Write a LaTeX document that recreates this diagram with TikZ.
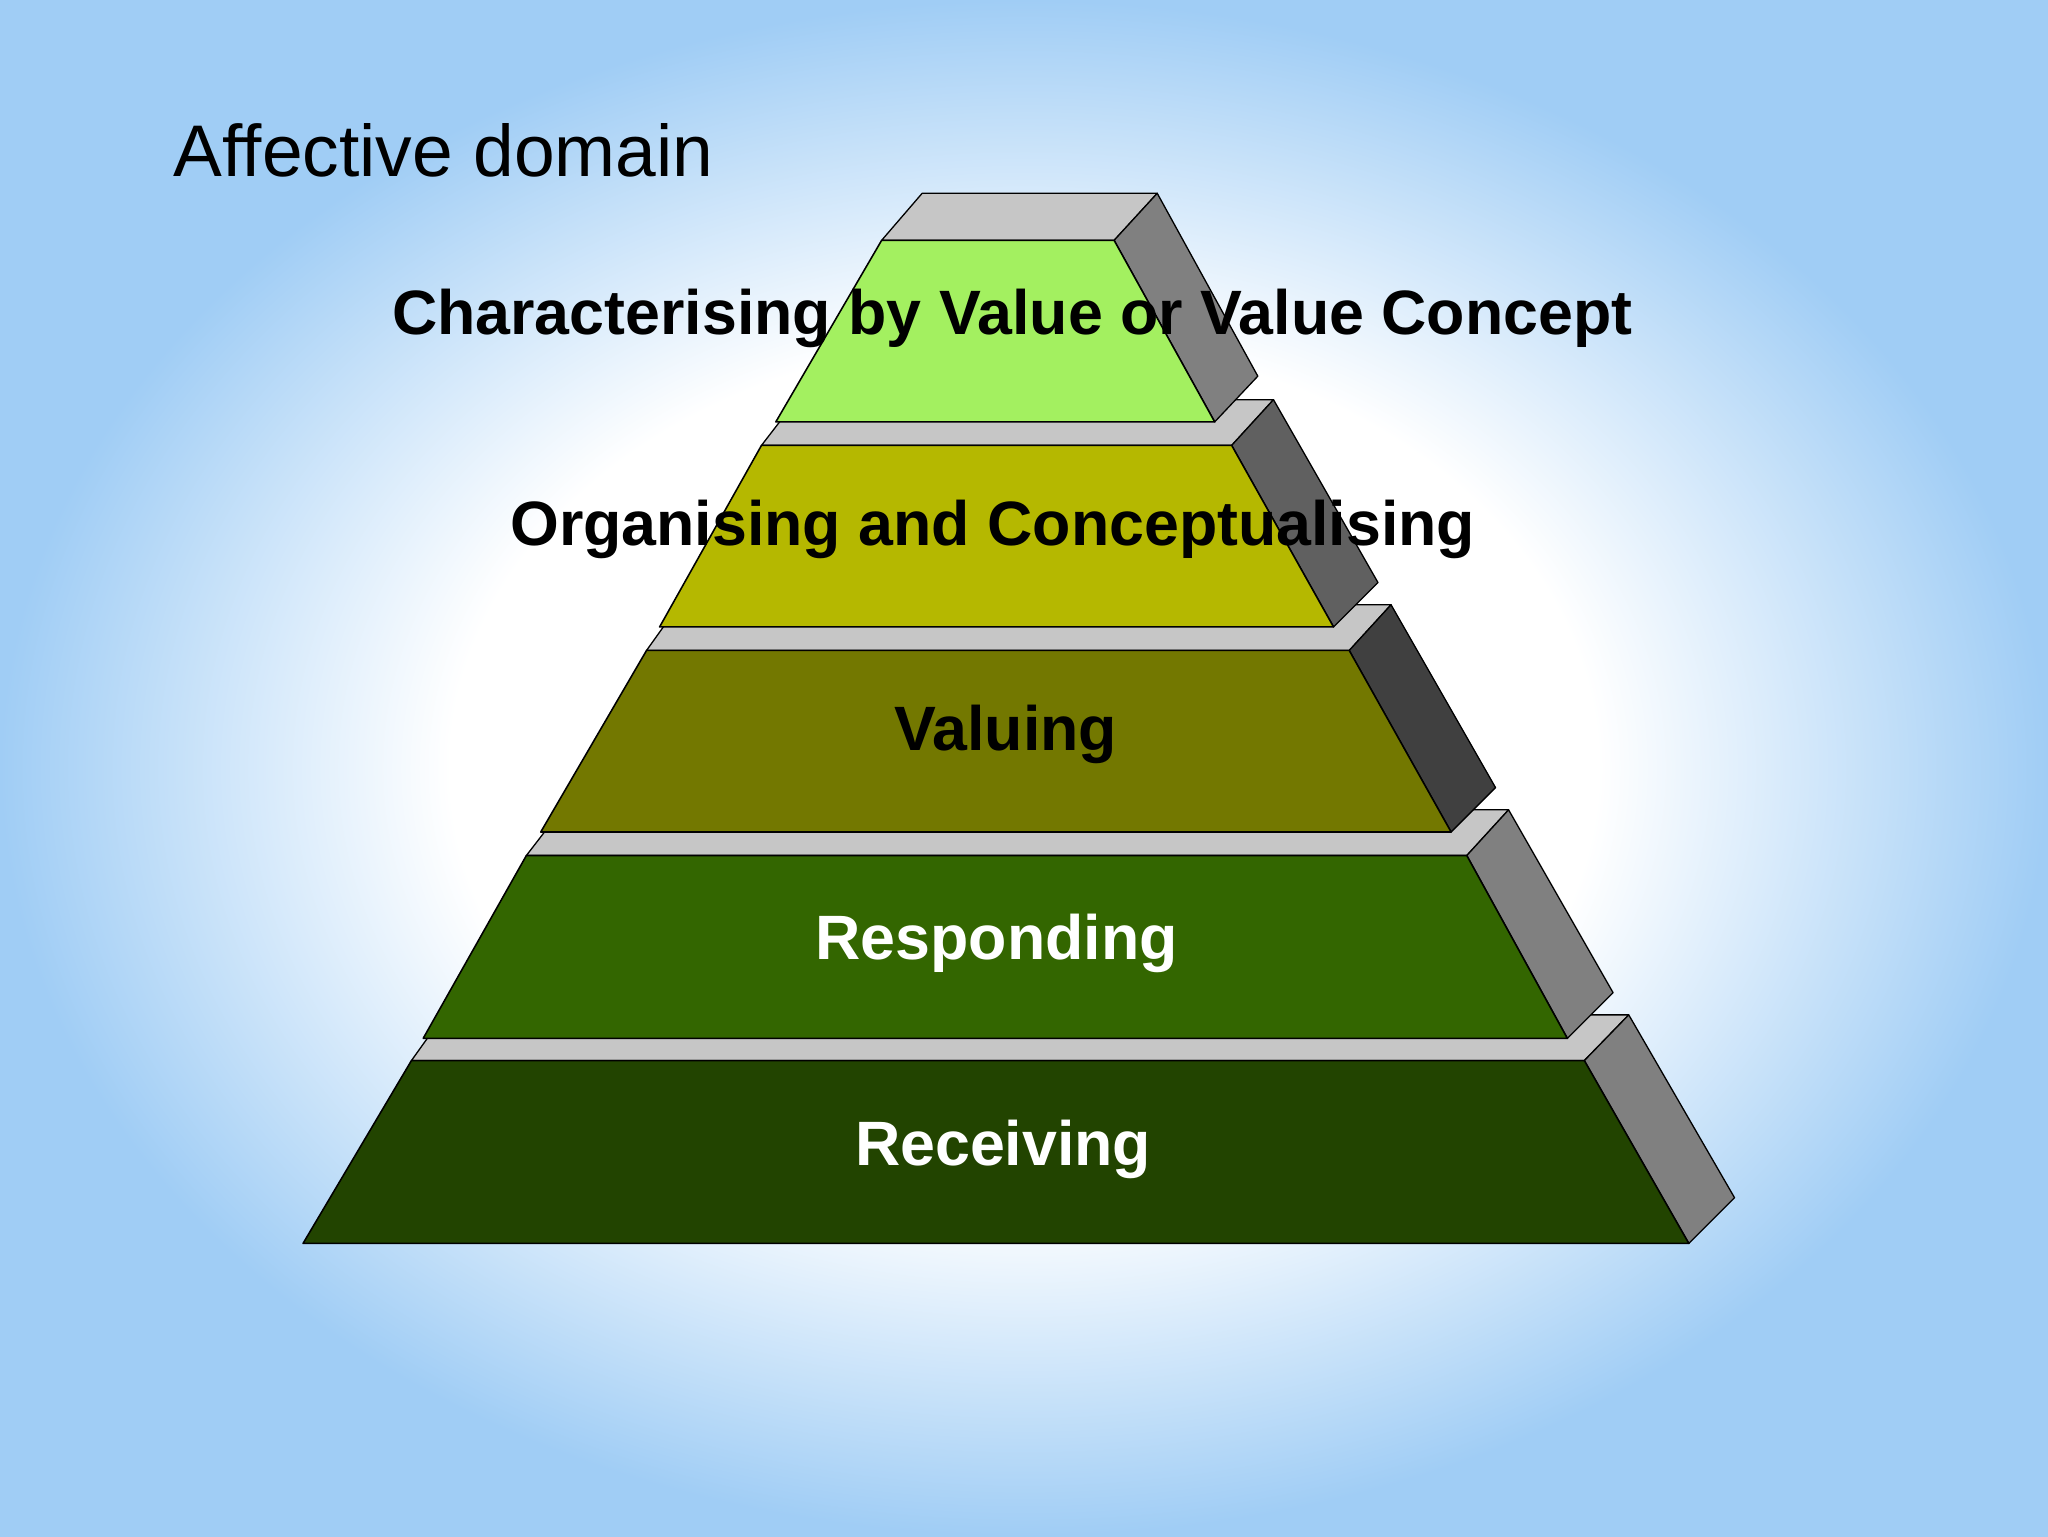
\documentclass[tikz,border=0pt]{standalone}
\usepackage{fontspec}
\setmainfont{Liberation Sans}
\definecolor{bgblue}{RGB}{160,205,245}
\pgfdeclareradialshading{bgshade}{\pgfpoint{0bp}{0bp}}{color(0bp)=(white); color(14bp)=(white); color(25bp)=(bgblue); color(50bp)=(bgblue)}
\begin{document}
\begin{tikzpicture}[x=1pt,y=-1pt,line join=round,
  strip/.style={fill=gray!45,draw=black,line width=1pt},
  front/.style={draw=black,line width=1.2pt},
  side/.style={draw=black,line width=1pt},
  lbl/.style={font=\fontsize{48}{54}\selectfont\bfseries,inner sep=0pt}]
\useasboundingbox (0,0) rectangle (1568,1176);
\shade[shading=bgshade] (0,0) rectangle (1568,1176);
\node[anchor=west,inner sep=0pt,font=\fontsize{56}{62}\selectfont] (title) at (133,115) {Affective domain};
% layer 5
\fill[strip] (315,812) -- (1213,812) -- (1247,777) -- (340,777) -- cycle;
\fill[side,fill=gray] (1213,812) -- (1247,777) -- (1328,917) -- (1293,952) -- cycle;
\fill[front,fill={rgb,255:red,34;green,68;blue,0}] (315,812) -- (1213,812) -- (1293,952) -- (232,952) -- cycle;
% layer 4
\fill[strip] (403,655) -- (1123,655) -- (1155,620) -- (430,620) -- cycle;
\fill[side,fill=gray] (1123,655) -- (1155,620) -- (1235,760) -- (1200,795) -- cycle;
\fill[front,fill={rgb,255:red,51;green,102;blue,0}] (403,655) -- (1123,655) -- (1200,795) -- (324,795) -- cycle;
% layer 3
\fill[strip] (495,498) -- (1033,498) -- (1065,463) -- (520,463) -- cycle;
\fill[side,fill={rgb,255:red,64;green,64;blue,64}] (1033,498) -- (1065,463) -- (1145,603) -- (1111,637) -- cycle;
\fill[front,fill={rgb,255:red,115;green,120;blue,0}] (495,498) -- (1033,498) -- (1111,637) -- (414,637) -- cycle;
% layer 2
\fill[strip] (583,341) -- (943,341) -- (975,306) -- (610,306) -- cycle;
\fill[side,fill={rgb,255:red,96;green,96;blue,96}] (943,341) -- (975,306) -- (1055,446) -- (1021,480) -- cycle;
\fill[front,fill={rgb,255:red,181;green,184;blue,0}] (583,341) -- (943,341) -- (1021,480) -- (505,480) -- cycle;
% layer 1
\fill[strip] (675,184) -- (853,184) -- (886,148) -- (706,148) -- cycle;
\fill[side,fill=gray] (853,184) -- (886,148) -- (963,288) -- (930,323) -- cycle;
\fill[front,fill={rgb,255:red,163;green,240;blue,96}] (675,184) -- (853,184) -- (930,323) -- (594,323) -- cycle;
% labels
\node[lbl] (l1) at (775,244) {Characterising by Value or Value Concept};
\node[lbl] (l2) at (760,405) {Organising and Conceptualising};
\node[lbl] (l3) at (770,562) {Valuing};
\node[lbl,text=white] (l4) at (763,722) {Responding};
\node[lbl,text=white] (l5) at (768,880) {Receiving};
\end{tikzpicture}
\end{document}
